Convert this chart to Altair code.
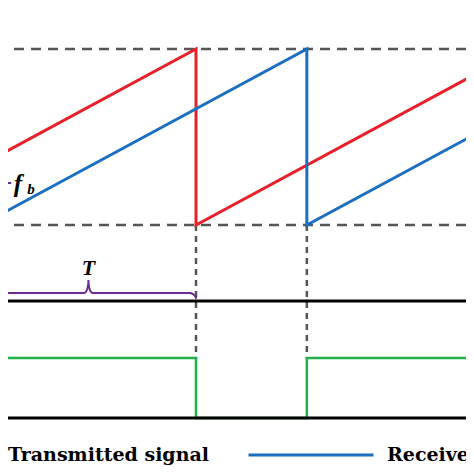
import altair as alt
import pandas as pd
import numpy as np

# ---- data (time in arbitrary units, frequency normalised to the sweep bandwidth) ----
series_names = ["Transmitted signal", "Received signal"]
series_colors = ["#e8202a", "#1a6fc0"]

tx_t = [0.0, 10.0, 10.0, 20.0]
tx_f = [0.0, 1.0, 0.0, 1.0]
rx_t = [-6.6, 3.4, 3.4, 13.4, 13.4, 23.4]
rx_f = [0.0, 1.0, 0.0, 1.0, 0.0, 1.0]

gate_t = [3.4, 10.0, 10.0, 13.4, 13.4, 23.4]
gate_state = [1, 1, 0, 0, 1, 1]

drop_t = [10.0, 13.4]          # instants of the two frequency fly-backs
f_levels = [0.0, 1.0]          # f_min and f_max
period_span = [3.4, 10.0]      # interval marked T

# vertical placement of the lower tracks (same vertical units as frequency)
AXIS_LEVEL = -0.432
GATE_HIGH = -0.756
GATE_LOW = -1.097
BRACE_LEVEL = -0.386
BRACE_TIP = -0.3125
BRACE_END = -0.42
T_LABEL_LEVEL = -0.284
FB_LEVEL = 0.188
FB_TICK_LEVEL = 0.2386

X_DOM = [4.233, 18.282]
Y_DOM = [-1.3693, 1.2330]

# ---- tables ----
rows = []
for i, (t, f) in enumerate(zip(tx_t, tx_f)):
    rows.append({"t": t, "f": f, "series": series_names[0], "i": i})
for i, (t, f) in enumerate(zip(rx_t, rx_f)):
    rows.append({"t": t, "f": f, "series": series_names[1], "i": i})
saw = pd.DataFrame(rows)

gate = pd.DataFrame({
    "t": gate_t,
    "v": [GATE_LOW + s * (GATE_HIGH - GATE_LOW) for s in gate_state],
    "i": list(range(len(gate_t))),
})

# curly brace over the interval T (annotation shape)
t0, t1 = period_span
tm = (t0 + t1) / 2
r_end, r_tip = 0.22, 0.13
th = np.linspace(0, np.pi / 2, 8)
bt, bv = [], []
bt += list(t0 + r_end - r_end * np.cos(th)); bv += list(BRACE_END + (BRACE_LEVEL - BRACE_END) * np.sin(th))
bt += list(tm - r_tip + r_tip * np.sin(th)); bv += list(BRACE_TIP - (BRACE_TIP - BRACE_LEVEL) * np.cos(th))
bt += list(tm + r_tip - r_tip * np.sin(th[::-1])); bv += list(BRACE_TIP - (BRACE_TIP - BRACE_LEVEL) * np.cos(th[::-1]))
bt += list(t1 - r_end + r_end * np.sin(th)); bv += list(BRACE_END + (BRACE_LEVEL - BRACE_END) * np.cos(th))
brace = pd.DataFrame({"t": bt, "v": bv, "i": list(range(len(bt)))})

xs = alt.Scale(domain=X_DOM, nice=False, zero=False)
ys = alt.Scale(domain=Y_DOM, nice=False, zero=False)
X = lambda f: alt.X(f, scale=xs, axis=None)
Y = lambda f: alt.Y(f, scale=ys, axis=None)

hdash = alt.Chart(pd.DataFrame({"f": f_levels})).mark_rule(
    color="#555555", strokeWidth=2.5, strokeDash=[10, 7]
).encode(y=Y("f:Q"))

vdash = alt.Chart(pd.DataFrame({"t": drop_t, "a": [0.0] * 2, "b": [GATE_HIGH] * 2})).mark_rule(
    color="#555555", strokeWidth=2.5, strokeDash=[6, 5]
).encode(x=X("t:Q"), y=Y("a:Q"), y2="b:Q")

lines = alt.Chart(saw).mark_line(strokeWidth=3, clip=True).encode(
    x=X("t:Q"), y=Y("f:Q"), order="i:Q",
    color=alt.Color("series:N", title=None,
                    scale=alt.Scale(domain=series_names, range=series_colors),
                    legend=alt.Legend(orient="none", legendX=-140, legendY=383,
                                      direction="horizontal", symbolType="stroke",
                                      symbolSize=15625, symbolStrokeWidth=3,
                                      labelFont="DejaVu Serif", labelFontWeight="bold",
                                      labelFontSize=19, labelColor="black",
                                      labelOffset=12, columnPadding=33,
                                      labelLimit=1000, padding=0)),
)

green = alt.Chart(gate).mark_line(color="#22b04a", strokeWidth=2.5, clip=True).encode(
    x=X("t:Q"), y=Y("v:Q"), order="i:Q")

black = alt.Chart(pd.DataFrame({"v": [AXIS_LEVEL, GATE_LOW]})).mark_rule(
    color="black", strokeWidth=3).encode(y=Y("v:Q"))

brace_l = alt.Chart(brace).mark_line(color="#6a2c91", strokeWidth=2, clip=True).encode(
    x=X("t:Q"), y=Y("v:Q"), order="i:Q")

fb_tick = alt.Chart(pd.DataFrame({"a": [X_DOM[0]], "b": [4.33], "v": [FB_TICK_LEVEL]})).mark_rule(
    color="#6a2c91", strokeWidth=2).encode(x=X("a:Q"), x2="b:Q", y=Y("v:Q"))

t_label = alt.Chart(pd.DataFrame({"t": [tm], "v": [T_LABEL_LEVEL], "s": ["T"]})).mark_text(
    font="Liberation Serif", fontStyle="italic", fontWeight="bold", fontSize=22,
    baseline="alphabetic", align="center", color="black"
).encode(x=X("t:Q"), y=Y("v:Q"), text="s:N")

f_label = alt.Chart(pd.DataFrame({"t": [4.54], "v": [FB_LEVEL], "s": ["f"]})).mark_text(
    font="Liberation Serif", fontStyle="italic", fontWeight="bold", fontSize=25,
    baseline="alphabetic", align="center", color="black"
).encode(x=X("t:Q"), y=Y("v:Q"), text="s:N")

b_label = alt.Chart(pd.DataFrame({"t": [4.94], "v": [FB_LEVEL - 0.01], "s": ["b"]})).mark_text(
    font="Liberation Serif", fontStyle="italic", fontWeight="bold", fontSize=15,
    baseline="alphabetic", align="center", color="black"
).encode(x=X("t:Q"), y=Y("v:Q"), text="s:N")

chart = alt.layer(
    hdash, vdash, green, black, lines, brace_l, fb_tick, t_label, f_label, b_label
).properties(
    width=458, height=458, padding=0,
    autosize=alt.AutoSizeParams(type="none"),
).configure_view(stroke=None)

chart.save("out.html", embed_options={"renderer": "svg", "actions": False})
